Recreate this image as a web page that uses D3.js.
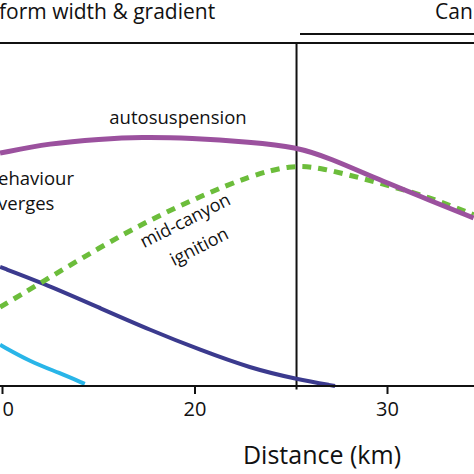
<!DOCTYPE html><html><head><meta charset="utf-8"><script src="https://cdn.jsdelivr.net/npm/d3@7"></script>
<style>body{margin:0;background:#fff}text{font-family:"Open Sans",sans-serif;fill:#111}</style></head><body><svg id="c" width="474" height="474"></svg>
<script>
const xTicks=[10,20,30];
const autosuspension=[[9.9,67.9],[12.5,70.8],[15.1,72.0],[17.2,72.6],[19.8,72.3],[22.9,71.1],[25.3,69.7],[27.0,66.5],[29.6,60.1],[32.2,54.2],[34.5,49.0]];
const midCanyon=[[9.9,23.0],[12.0,30.0],[15.1,40.5],[17.7,48.5],[20.3,55.3],[22.9,61.3],[25.0,64.4],[26.5,63.8],[29.6,59.2],[32.2,55.1],[34.5,49.9]];
const navy=[[9.9,34.7],[12.0,30.3],[15.1,22.7],[17.7,16.3],[20.3,10.5],[22.9,5.2],[25.3,2.0],[27.3,0]];
const cyan=[[9.9,12.0],[11.5,7.0],[13.0,3.8],[14.3,0.6]];
const boundary=25.3;
const svg=d3.select("#c");
const x=d3.scaleLinear().domain([10,30]).range([2,387]);
const y=d3.scaleLinear().domain([0,100]).range([386,43]);
const line=d3.line().x(d=>x(d[0])).y(d=>y(d[1])).curve(d3.curveBasis);
svg.append("line").attr("x1",0).attr("x2",474).attr("y1",y(100)).attr("y2",y(100)).attr("stroke","#111").attr("stroke-width",2);
svg.append("line").attr("x1",300).attr("x2",474).attr("y1",34).attr("y2",34).attr("stroke","#111").attr("stroke-width",2);
svg.append("line").attr("x1",x(boundary)).attr("x2",x(boundary)).attr("y1",y(100)).attr("y2",y(-1)).attr("stroke","#111").attr("stroke-width",2);
svg.append("path").attr("d",line(cyan)).attr("fill","none").attr("stroke","#29b5e8").attr("stroke-width",4);
svg.append("path").attr("d",line(navy)).attr("fill","none").attr("stroke","#3b3a8e").attr("stroke-width",4);
svg.append("path").attr("d",line(midCanyon)).attr("fill","none").attr("stroke","#6cbd3b").attr("stroke-width",5).attr("stroke-dasharray","9,7");
svg.append("path").attr("d",line(autosuspension)).attr("fill","none").attr("stroke","#9b519e").attr("stroke-width",5);
const ax=d3.axisBottom(x).tickValues(xTicks).tickSize(8).tickSizeOuter(0);
const g=svg.append("g").attr("transform","translate(0,386)").call(ax);
g.select(".domain").remove();
g.append("line").attr("x1",0).attr("x2",474).attr("stroke","#111").attr("stroke-width",2);
g.selectAll(".tick line").attr("stroke","#111").attr("stroke-width",2);
g.selectAll(".tick text").attr("font-size",20).attr("dy","0.95em").style("fill","#111").attr("font-family","Open Sans");
const t=(s,xx,yy,fs,a="start",rot=0)=>svg.append("text").text(s).attr("x",xx).attr("y",yy).attr("font-size",fs).attr("text-anchor",a).attr("transform",rot?`rotate(${rot},${xx},${yy})`:null);
t("form width & gradient",-1,19,21);
t("Can",435,19,21);
t("autosuspension",178,124,18.5,"middle");
t("ehaviour",-2,185,18.5);
t("verges",-2,210,18.5);
t("mid-canyon",188,226,18,"middle",-27);
t("ignition",202,252,18,"middle",-27);
t("Distance (km)",322,464,25,"middle");
</script></body></html>
